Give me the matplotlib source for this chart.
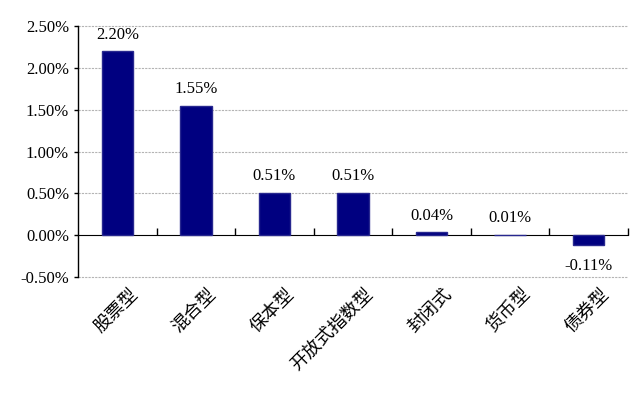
import numpy as np
import matplotlib.pyplot as plt
from matplotlib.ticker import FuncFormatter, FixedLocator
import matplotlib.transforms as mtransforms

categories = ["股票型", "混合型", "保本型", "开放式指数型", "封闭式", "货币型", "债券型"]
returns = [2.20, 1.55, 0.51, 0.51, 0.04, 0.01, -0.11]
y_ticks = [-0.5, 0.0, 0.5, 1.0, 1.5, 2.0, 2.5]

fig = plt.figure(figsize=(6.4, 4.2), dpi=100)
ax = fig.add_axes([0.122, 0.340, 0.859, 0.598])

x = np.arange(len(categories))
ax.bar(x, returns, 0.4, color="#000080", edgecolor="#28288f", linewidth=1.0, zorder=3)

ax.set_xlim(-0.5, len(categories) - 0.5)
ax.set_ylim(y_ticks[0], y_ticks[-1])
ax.set_yticks(y_ticks)
ax.yaxis.set_major_formatter(FuncFormatter(lambda v, p: "{0:.2f}%".format(v)))

# dashed grid lines except at zero
for t in y_ticks:
    if t != 0:
        ax.axhline(t, color="#b4b4b4", linestyle=(0, (2, 1)), linewidth=0.8, zorder=1, clip_on=False)

for side in ["top", "right"]:
    ax.spines[side].set_visible(False)
ax.spines["bottom"].set_position(("data", 0))
ax.spines["left"].set_linewidth(1.0)

# ticks between the categories on the zero line
ax.xaxis.set_major_locator(FixedLocator(x))
ax.xaxis.set_minor_locator(FixedLocator(x + 0.5))
ax.tick_params(axis="x", which="major", length=0, labelbottom=False)
ax.tick_params(axis="x", which="minor", direction="in", length=5, width=1)
ax.tick_params(axis="y", direction="out", length=3, width=1)

for lab in ax.get_yticklabels():
    lab.set_family("Liberation Serif")
    lab.set_fontsize(12)

# category labels below the plot area
trans = mtransforms.blended_transform_factory(ax.transData, ax.transAxes)
for xi, name in zip(x, categories):
    ax.text(xi + 0.14, -0.03, name, transform=trans, rotation=45, ha="right", va="top",
            rotation_mode="anchor", fontsize=13, family=["Noto Sans CJK SC", "DejaVu Sans"])

# value labels
for xi, v in zip(x, returns):
    if v >= 0:
        ax.annotate("{0:.2f}%".format(v), (xi, v), xytext=(0, 6), textcoords="offset points",
                    ha="center", va="bottom", fontsize=12, family="Liberation Serif")
    else:
        ax.annotate("{0:.2f}%".format(v), (xi, v), xytext=(0, -10), textcoords="offset points",
                    ha="center", va="top", fontsize=12, family="Liberation Serif")

plt.savefig("out.png", dpi=100)
